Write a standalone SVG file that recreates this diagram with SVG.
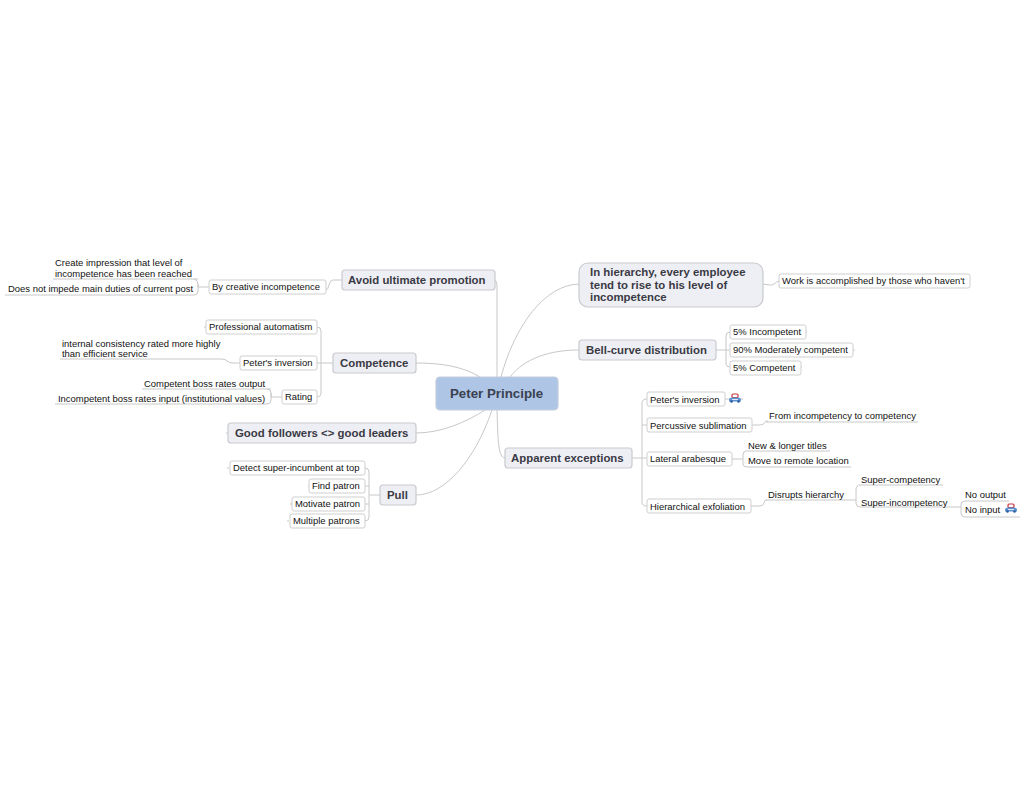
<svg xmlns="http://www.w3.org/2000/svg" width="1024" height="786" viewBox="0 0 1024 786">
<defs>
<g id="car"><rect x="-3" y="-5" width="6" height="3.500" rx="1" fill="none" stroke="#c8343c" stroke-width="1.200"/><path d="M-6 1Q-6-1.500-3-1.500H3Q6-1.500 6 1V2.500H-6Z" fill="#5b93d3"/><circle cx="-3.500" cy="2.500" r="1.300" fill="#2b5a98"/><circle cx="3.500" cy="2.500" r="1.300" fill="#2b5a98"/><path d="M-3 .5H3" stroke="#dbe8f6" stroke-width="1"/></g>
</defs>
<style>
text{font-family:"Liberation Sans",Arial,sans-serif;fill:#111}
.c{fill:none;stroke:#c8c8c8;stroke-width:1}
.l1 rect{fill:#eeeff5;stroke:#c9cacd;stroke-width:1.200}
.l1 text{font-size:11.400px;font-weight:700;fill:#3a3a44}
.l2 rect{fill:#fff;stroke:#cfcfcf;stroke-width:1}
.l2 text,.f text{font-size:9.450px}
.f path{fill:none;stroke:#c8c8c8;stroke-width:1}
</style>
<rect width="1024" height="786" fill="#fff"/>
<g id="connectors">
<path class="c" d="M497 377V287Q497 280 494 280"/>
<path class="c" d="M480 377C462 366 440 363 416 363"/>
<path class="c" d="M485 410C465 423 440 433 416 433"/>
<path class="c" d="M492 410C475 460 445 495 416 495"/>
<path class="c" d="M501 377C515 325 545 285 579 284"/>
<path class="c" d="M510 377C525 358 550 350 579 350"/>
<path class="c" d="M497 410C498 440 498 458 505 458"/>
<path class="c" d="M763 284Q772 286 774 284T779 281"/>
<path class="c" d="M716 350H730M726 350V336Q726 332 730 332M726 350V364Q726 367 730 367"/>
<path class="c" d="M632 458H647M642 458V403Q642 399 647 399M642 425H647M642 458V502Q642 506 647 506"/>
<path class="c" d="M725 399H730M740 399H743"/>
<path class="c" d="M752 425H760Q764 425 765 422Q765 421 768 421"/>
<path class="c" d="M732 459H743"/>
<path class="c" d="M743 459V455Q743 451 746 451"/>
<path class="c" d="M751 506H760Q763 506 764 503Q764 500 767 500"/>
<path class="c" d="M856 500V490Q856 485 860 485M856 500V503Q856 507 860 507"/>
<path class="c" d="M961 507V505Q961 501 964 501"/>
<path class="c" d="M342 280H333Q330 280 329 285Q328 290 326 290"/>
<path class="c" d="M198 287H209"/>
<path class="c" d="M198 287V284Q198 280 194 279"/>
<path class="c" d="M333 363H317M321 363V331Q321 327 317 327M321 363V393Q321 397 317 397"/>
<path class="c" d="M240 363H233Q229 363 227 361Q226 359 221 359"/>
<path class="c" d="M282 397H271"/>
<path class="c" d="M271 397V393Q271 389 267 389"/>
<path class="c" d="M380 495H369M369 495V472Q369 468 365 468M369 486H365M369 504H365M369 495V517Q369 521 365 521"/>
<path class="c" d="M207 327H204M229 468H227M310 486H308M292 504H290M289 521H287M228 433H226M968 281H970M855 350H852M807 332H805M802 367H801"/>
</g>
<g id="n-root" class="l1"><rect x="436" y="377" width="122" height="33" rx="4" style="fill:#afc5e6;stroke:#c3cede"/><text x="450" y="398" style="font-size:13.300px;fill:#3a4150">Peter Principle</text></g>
<g id="n-avoid" class="l1"><rect x="342" y="270" width="153" height="20" rx="3"/><text x="348" y="284">Avoid ultimate promotion</text></g>
<g id="n-comp" class="l1"><rect x="333" y="353" width="83" height="20" rx="3"/><text x="340" y="367">Competence</text></g>
<g id="n-good" class="l1"><rect x="228" y="423" width="188" height="20" rx="3"/><text x="235" y="437">Good followers &lt;&gt; good leaders</text></g>
<g id="n-pull" class="l1"><rect x="380" y="485" width="36" height="20" rx="3"/><text x="387" y="499">Pull</text></g>
<g id="n-hier" class="l1"><rect x="579" y="263" width="184" height="44" rx="9"/><text x="590" y="276">In hierarchy, every employee</text><text x="590" y="288.500">tend to rise to his level of</text><text x="590" y="301">incompetence</text></g>
<g id="n-bell" class="l1"><rect x="579" y="340" width="137" height="20" rx="3"/><text x="586" y="354">Bell-curve distribution</text></g>
<g id="n-appa" class="l1"><rect x="505" y="448" width="127" height="20" rx="3"/><text x="511" y="462">Apparent exceptions</text></g>
<g id="n-bycr" class="l2"><rect x="209" y="280" width="117" height="14" rx="2"/><text x="212" y="290">By creative incompetence</text></g>
<g id="n-prof" class="l2"><rect x="206" y="320" width="111" height="14" rx="2"/><text x="209" y="330">Professional automatism</text></g>
<g id="n-pinv" class="l2"><rect x="240" y="356" width="77" height="14" rx="2"/><text x="243" y="366">Peter's inversion</text></g>
<g id="n-rate" class="l2"><rect x="282" y="390" width="35" height="14" rx="2"/><text x="285" y="400">Rating</text></g>
<g id="n-dete" class="l2"><rect x="230" y="461" width="135" height="14" rx="2"/><text x="233" y="471">Detect super-incumbent at top</text></g>
<g id="n-find" class="l2"><rect x="309" y="479" width="56" height="14" rx="2"/><text x="312" y="489">Find patron</text></g>
<g id="n-moti" class="l2"><rect x="292" y="497" width="73" height="14" rx="2"/><text x="295" y="507">Motivate patron</text></g>
<g id="n-mult" class="l2"><rect x="290" y="514" width="75" height="14" rx="2"/><text x="293" y="524">Multiple patrons</text></g>
<g id="n-work" class="l2"><rect x="779" y="274" width="191" height="14" rx="2"/><text x="782" y="284">Work is accomplished by those who haven't</text></g>
<g id="n-b1" class="l2"><rect x="730" y="325" width="76" height="14" rx="2"/><text x="733" y="335">5% Incompetent</text></g>
<g id="n-b2" class="l2"><rect x="730" y="343" width="123" height="14" rx="2"/><text x="733" y="353">90% Moderately competent</text></g>
<g id="n-b3" class="l2"><rect x="730" y="361" width="71" height="14" rx="2"/><text x="733" y="371">5% Competent</text></g>
<g id="n-e1" class="l2"><rect x="647" y="392" width="78" height="14" rx="2"/><text x="650" y="403">Peter's inversion</text><use href="#car" x="735" y="399"/></g>
<g id="n-e2" class="l2"><rect x="647" y="418" width="105" height="14" rx="2"/><text x="650" y="429">Percussive sublimation</text></g>
<g id="n-e3" class="l2"><rect x="647" y="452" width="85" height="14" rx="2"/><text x="650" y="462">Lateral arabesque</text></g>
<g id="n-e4" class="l2"><rect x="647" y="499" width="104" height="14" rx="2"/><text x="650" y="510">Hierarchical exfoliation</text></g>
<g id="f-cre" class="f"><path d="M53 279H198"/><text x="55" y="266">Create impression that level of</text><text x="55" y="277">incompetence has been reached</text></g>
<g id="f-doe" class="f"><path d="M5 295H194Q198 295 198 291V284"/><text x="8" y="292">Does not impede main duties of current post</text></g>
<g id="f-int" class="f"><path d="M60 359H221"/><text x="62" y="347">internal consistency rated more highly</text><text x="62" y="357">than efficient service</text></g>
<g id="f-cb" class="f"><path d="M142 389H271"/><text x="144" y="387">Competent boss rates output</text></g>
<g id="f-ib" class="f"><path d="M55 404H267Q271 404 271 400V393"/><text x="58" y="402">Incompetent boss rates input (institutional values)</text></g>
<g id="f-fro" class="f"><path d="M766 422H918"/><text x="769" y="419">From incompetency to competency</text></g>
<g id="f-new" class="f"><path d="M746 451H830"/><text x="748" y="449">New &amp; longer titles</text></g>
<g id="f-mov" class="f"><path d="M747 467H851M747 467Q743 467 743 464V459"/><text x="748" y="464">Move to remote location</text></g>
<g id="f-dis" class="f"><path d="M766 500H856"/><text x="768" y="498">Disrupts hierarchy</text></g>
<g id="f-sc" class="f"><path d="M860 485H943"/><text x="861" y="483">Super-competency</text></g>
<g id="f-si" class="f"><path d="M860 507H961"/><text x="861" y="506">Super-incompetency</text></g>
<g id="f-no" class="f"><path d="M964 501H1009"/><text x="965" y="498">No output</text></g>
<g id="f-ni" class="f"><path d="M965 517H1020M965 517Q961 517 961 513V507"/><text x="965" y="513">No input</text><use href="#car" x="1011" y="509"/></g>
</svg>
